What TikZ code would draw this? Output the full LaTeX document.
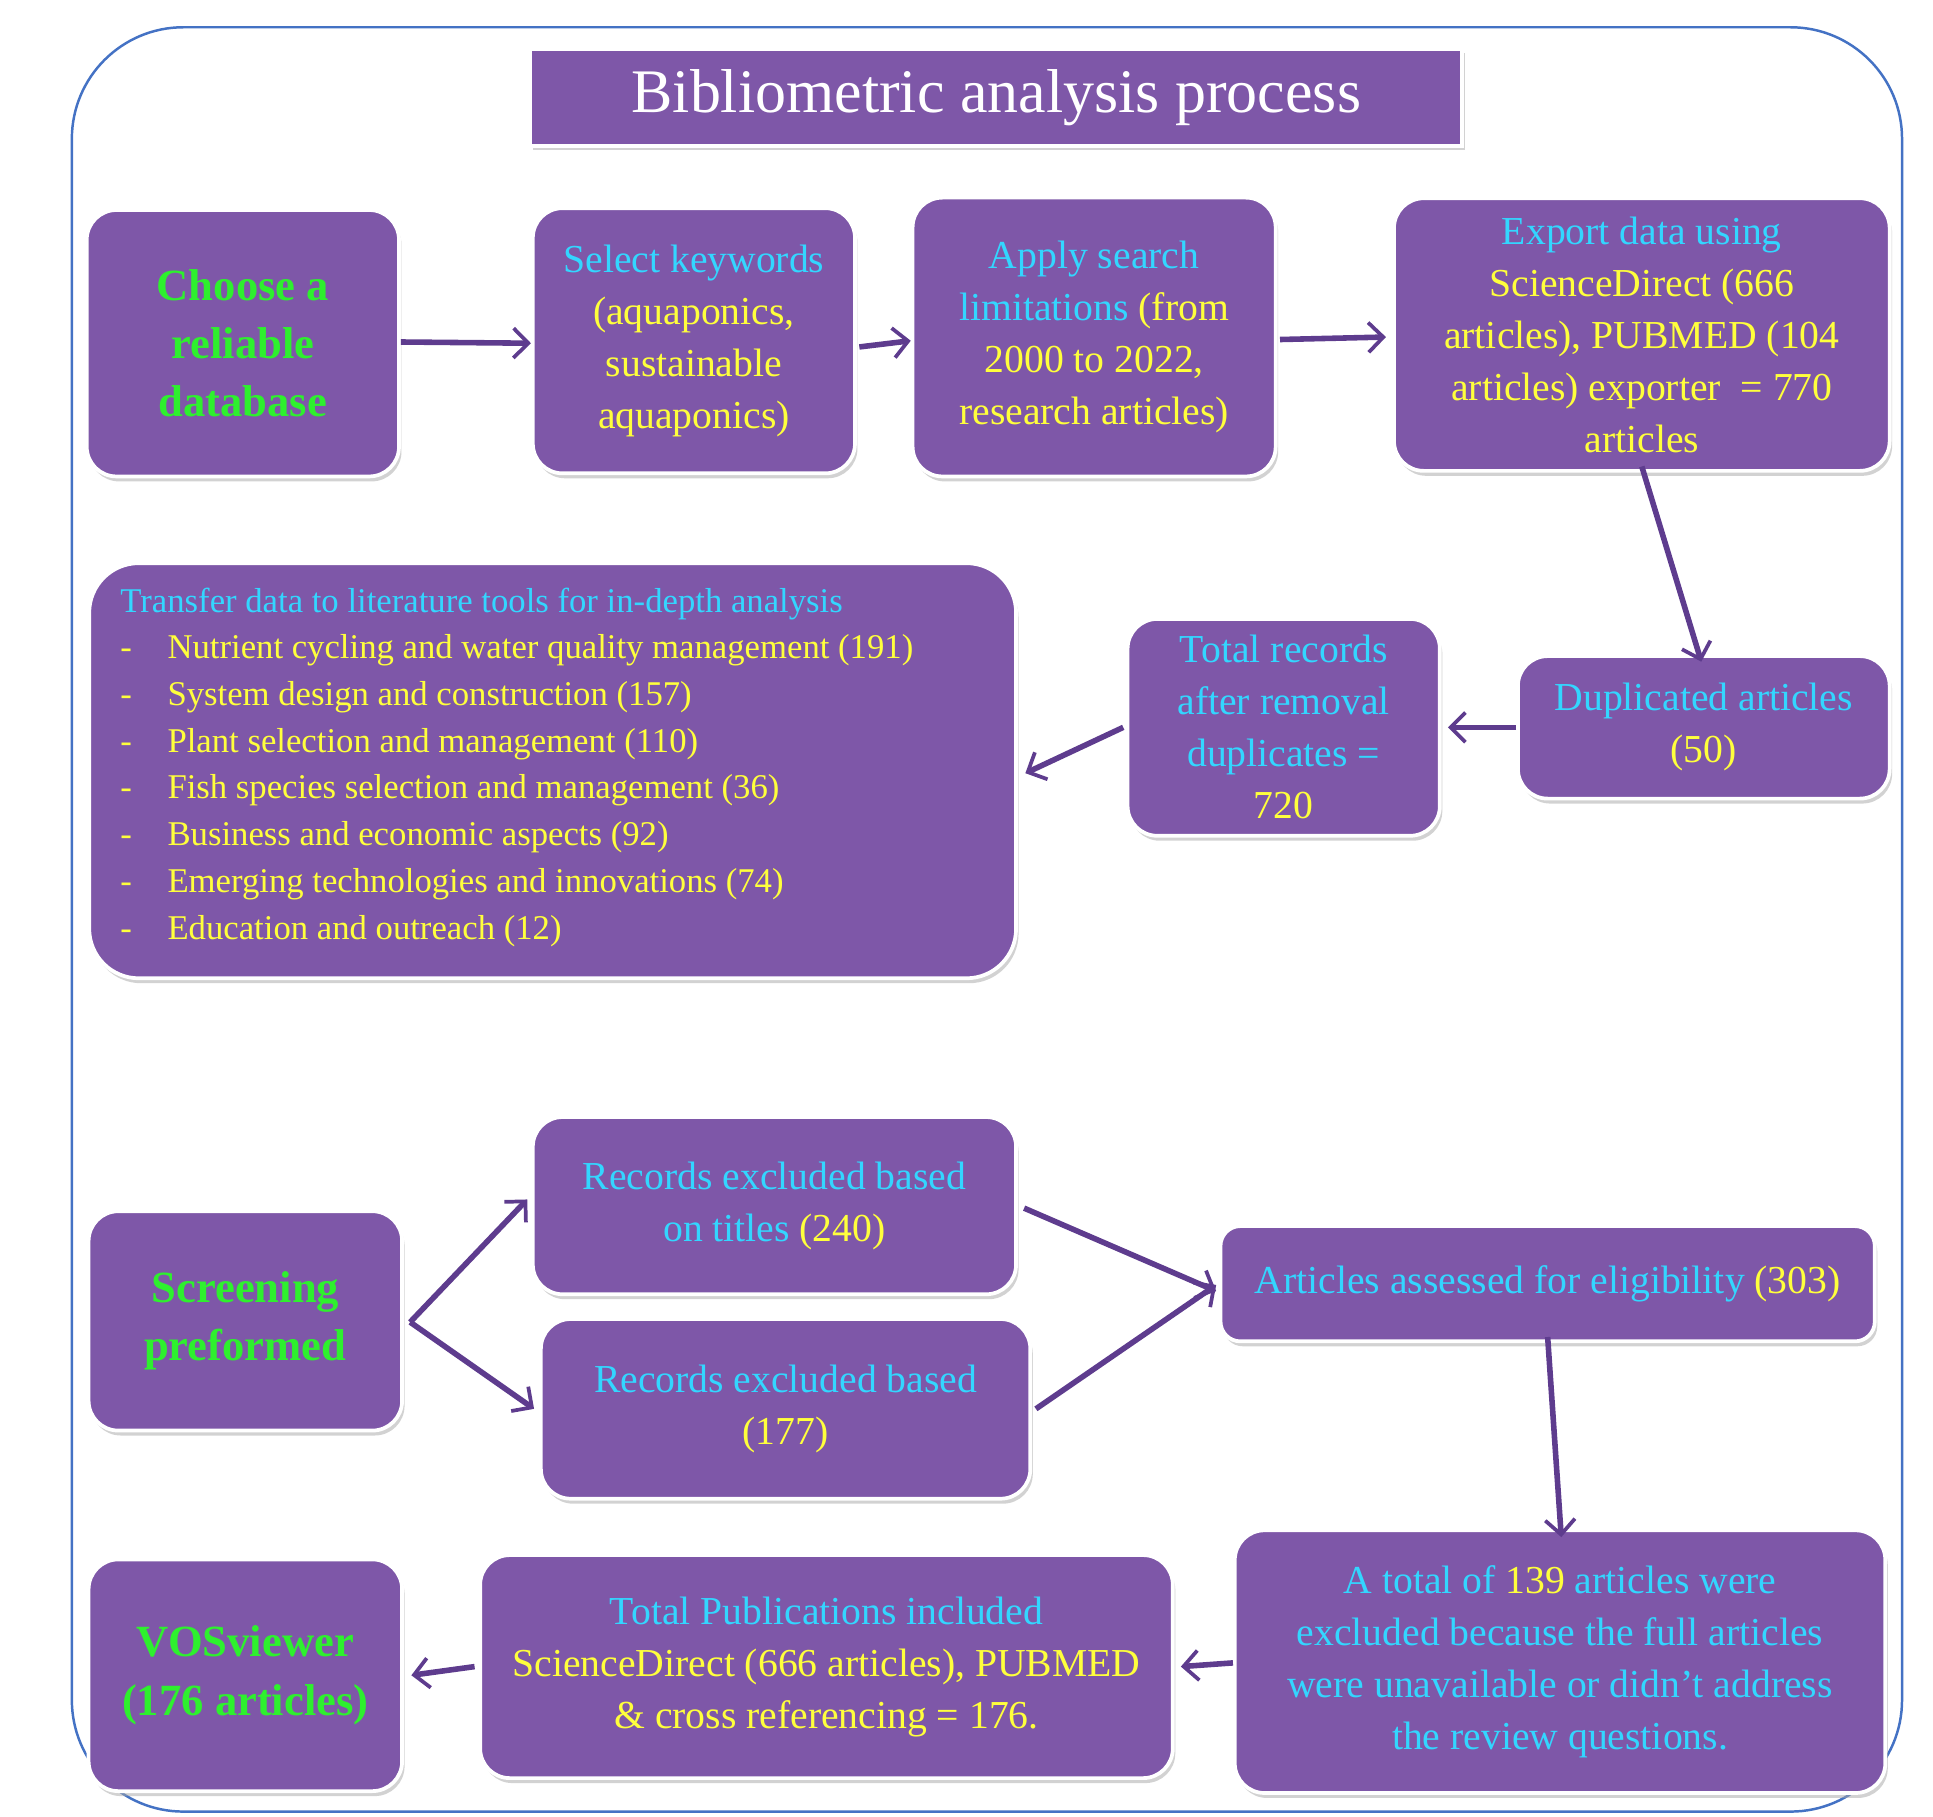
\documentclass[tikz,border=0pt]{standalone}
\usepackage{fontspec}
\setmainfont{Liberation Serif}
\usetikzlibrary{arrows.meta,shadows}
\definecolor{pur}{HTML}{7E57A8}
\definecolor{arr}{HTML}{5E3C8E}
\definecolor{cy}{HTML}{33D6FF}
\definecolor{ye}{HTML}{FFFF3C}
\definecolor{gr}{HTML}{2EF02E}
\definecolor{frame}{HTML}{4472C4}
\newcommand{\C}[1]{\textcolor{cy}{#1}}
\newcommand{\Y}[1]{\textcolor{ye}{#1}}
\begin{document}
\begin{tikzpicture}[x=1pt,y=-1pt,
  box/.style={fill=pur,draw=white,line width=3pt,rounded corners=24pt,
     drop shadow={shadow xshift=2pt,shadow yshift=-4pt,fill=black!35},
     align=center,inner sep=0pt,font=\fontsize{32}{42}\selectfont,text=cy},
  gbox/.style={box,text=gr,font=\fontsize{36}{47}\selectfont\bfseries},
  ar/.style={draw=arr,line width=4.5pt,-{Straight Barb[length=12pt,width=24pt,line width=3pt]}}]
\useasboundingbox (0,0) rectangle (1560,1466);
\draw[frame,line width=2pt,rounded corners=90pt] (58,22) rectangle (1535,1462);
\node[fill=pur,draw=white,line width=3pt,drop shadow={shadow xshift=2pt,shadow yshift=-3pt,fill=black!35},
  minimum width=752pt,minimum height=78pt,text=white,font=\fontsize{50}{60}\selectfont] (T) at (804,79) {Bibliometric analysis process};
\node[gbox,minimum width=252pt,minimum height=215pt] (A) at (196,277) {Choose a\\reliable\\database};
\node[box,minimum width=260pt,minimum height=214pt] (B) at (560,275) {\C{Select keywords}\\\Y{(aquaponics,}\\\Y{sustainable}\\\Y{aquaponics)}};
\node[box,minimum width=293pt,minimum height=225pt] (C) at (883,272) {\C{Apply search}\\\C{limitations} \Y{(from}\\\Y{2000 to 2022,}\\\Y{research articles)}};
\node[box,minimum width=400pt,minimum height=220pt] (D) at (1325,270) {\C{Export data using}\\\Y{ScienceDirect (666}\\\Y{articles), PUBMED (104}\\\Y{articles) exporter\ \ = 770}\\\Y{articles}};
\node[box,minimum width=300pt,minimum height=115pt] (G) at (1375,587) {\C{Duplicated articles}\\\Y{(50)}};
\node[box,minimum width=252pt,minimum height=175pt] (F) at (1036,587) {\C{Total records}\\\C{after removal}\\\C{duplicates =}\\\Y{720}};
\node[box,minimum width=748pt,minimum height=335pt,rounded corners=40pt] (E) at (446,622) {};
\node[anchor=north west,align=left,inner sep=0pt,font=\fontsize{28}{37.7}\selectfont,text=ye] (Et) at (97,474)
 {\C{Transfer data to literature tools for in-depth analysis}\\
 \makebox[38pt][l]{-}Nutrient cycling and water quality management (191)\\
 \makebox[38pt][l]{-}System design and construction (157)\\
 \makebox[38pt][l]{-}Plant selection and management (110)\\
 \makebox[38pt][l]{-}Fish species selection and management (36)\\
 \makebox[38pt][l]{-}Business and economic aspects (92)\\
 \makebox[38pt][l]{-}Emerging technologies and innovations (74)\\
 \makebox[38pt][l]{-}Education and outreach (12)};
\node[gbox,minimum width=253pt,minimum height=177pt] (H) at (198,1066) {Screening\\preformed};
\node[box,minimum width=390pt,minimum height=143pt] (I) at (625,973) {\C{Records excluded based}\\\C{on titles} \Y{(240)}};
\node[box,minimum width=395pt,minimum height=145pt] (J) at (634,1137) {\C{Records excluded based}\\\Y{(177)}};
\node[box,minimum width=528pt,minimum height=93pt,rounded corners=16pt] (K) at (1249,1036) {\C{Articles assessed for eligibility} \Y{(303)}};
\node[box,minimum width=525pt,minimum height=212pt] (L) at (1259,1341) {\C{A total of} \Y{139} \C{articles were}\\\C{excluded because the full articles}\\\C{were unavailable or didn't address}\\\C{the review questions.}};
\node[box,minimum width=559pt,minimum height=180pt] (M) at (667,1345) {\C{Total Publications included}\\\Y{ScienceDirect (666 articles), PUBMED}\\\Y{\& cross referencing = 176.}};
\node[gbox,minimum width=253pt,minimum height=187pt] (N) at (198,1352) {VOSviewer\\(176 articles)};
\draw[ar] ([yshift=1pt]A.east) -- ([yshift=-2pt]B.west);
\draw[ar] ([xshift=2pt,yshift=-5pt]B.east) -- ([yshift=-3pt]C.west);
\draw[ar] ([xshift=2pt,yshift=-2pt]C.east) -- ([xshift=-5pt,yshift=-2pt]D.west);
\draw[ar] ([yshift=5pt]D.south) -- ([xshift=-2pt,yshift=-6pt]G.north);
\draw[ar] (G.west) -- ([xshift=5pt]F.east);
\draw[ar] ([xshift=-2pt]F.west) -- ([xshift=6pt,yshift=-2pt]E.east);
\draw[ar] ([xshift=5pt,yshift=-1pt]H.east) -- ([xshift=-3pt,yshift=5pt]I.west);
\draw[ar] ([xshift=5pt,yshift=-1pt]H.east) -- ([xshift=-4pt]J.west);
\draw[ar] ([xshift=5pt,yshift=-2pt]I.east) -- ([xshift=-2pt,yshift=-6pt]K.west);
\draw[ar] ([xshift=3pt]J.east) -- ([xshift=-2pt,yshift=-1pt]K.west);
\draw[ar] ([yshift=5pt]K.south) -- ([xshift=1pt,yshift=-7pt]L.north);
\draw[ar] ([yshift=-1pt]L.west) -- ([xshift=5pt]M.west -| M.east);
\draw[ar] ([xshift=-3pt]M.west) -- ([xshift=6pt]N.east);
\end{tikzpicture}
\end{document}
